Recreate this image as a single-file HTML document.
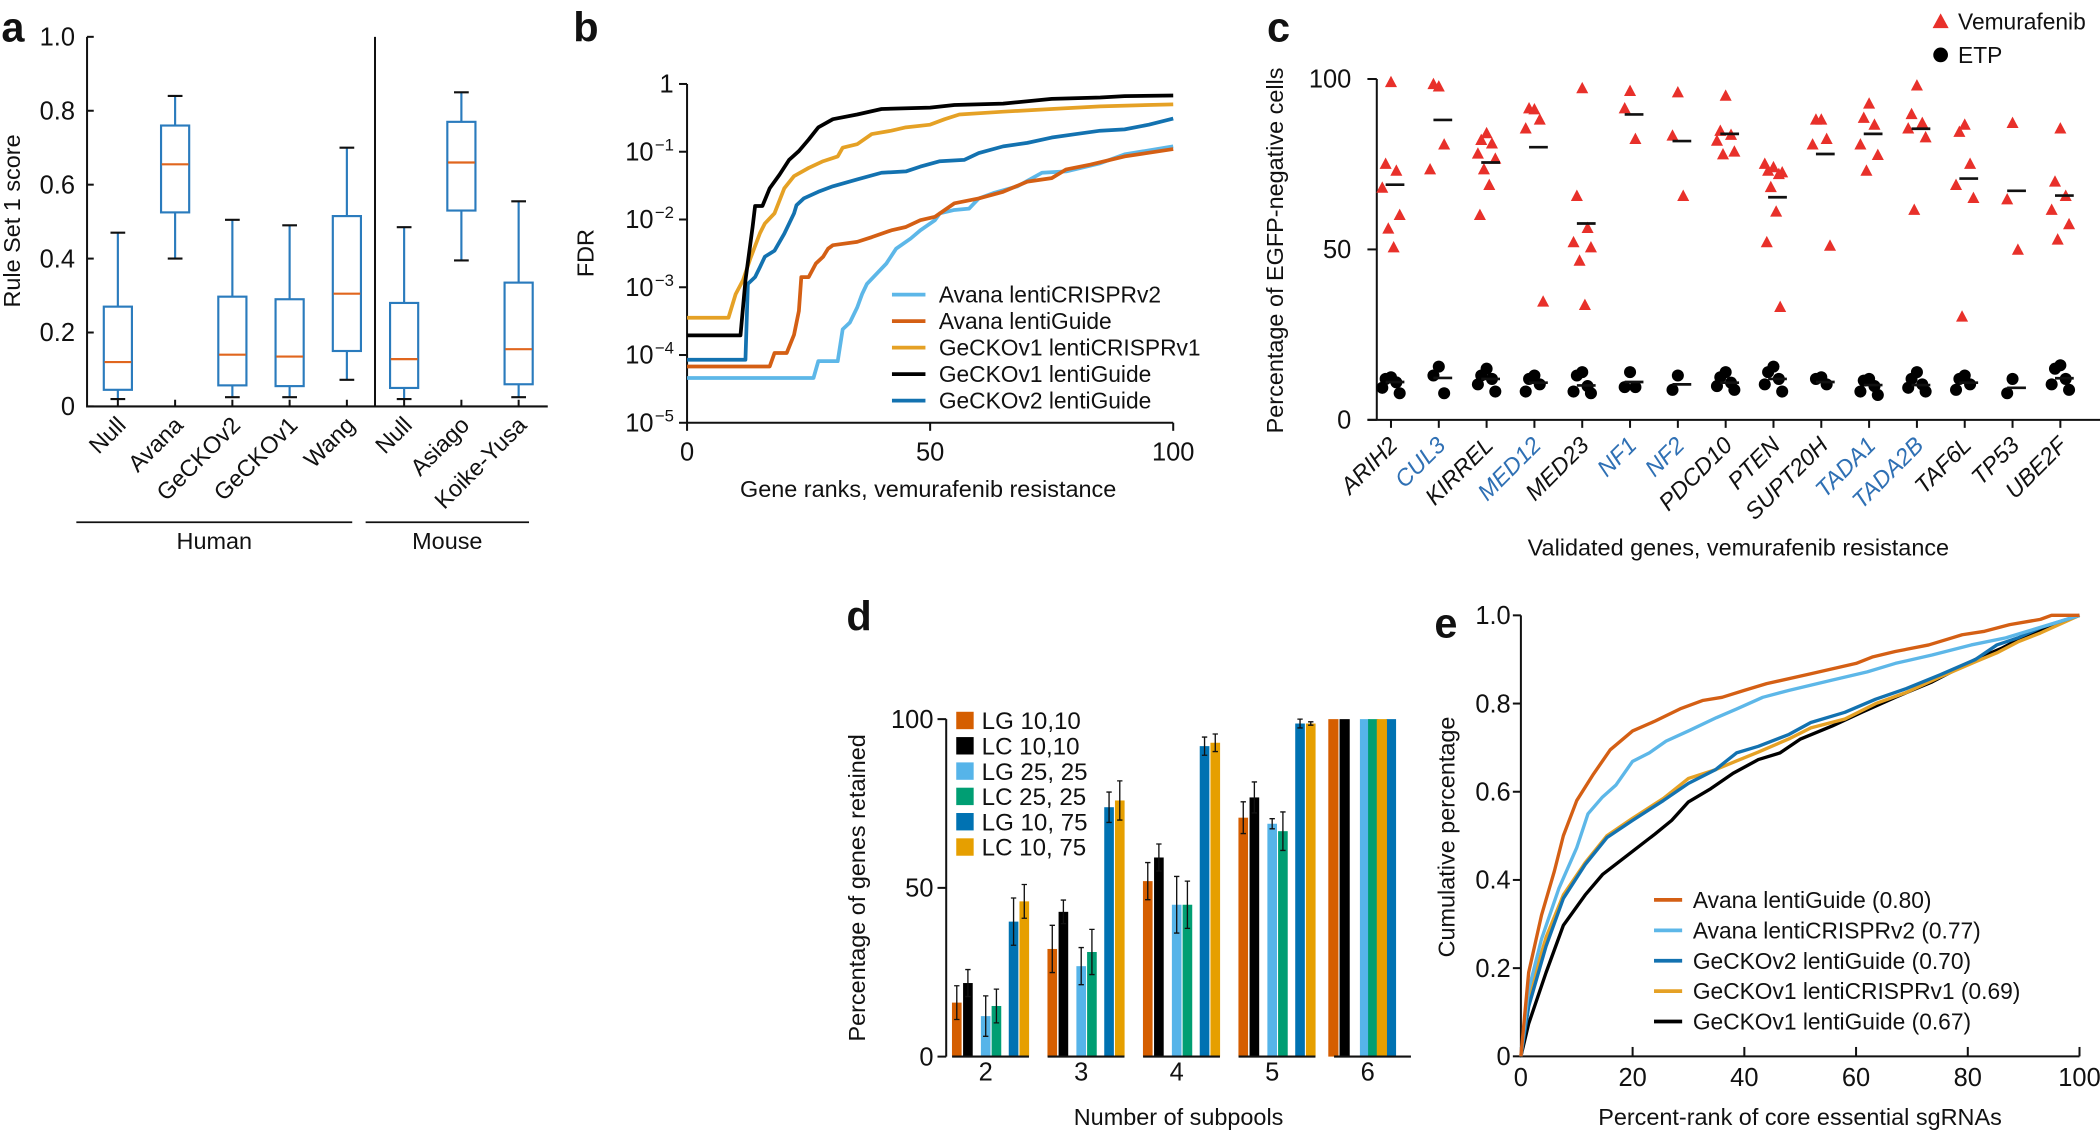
<!DOCTYPE html>
<html><head><meta charset="utf-8">
<style>
html,body{margin:0;padding:0;background:#fff;}
svg{display:block;font-family:"Liberation Sans",Arial,sans-serif;}
text{fill:#111;}
</style></head>
<body>
<svg id="fig" width="2100" height="1132" viewBox="0 0 1568 845.3" preserveAspectRatio="none" xmlns="http://www.w3.org/2000/svg">
<g font-weight="bold" font-size="31">
<text x="1" y="31">a</text>
<text x="428" y="31">b</text>
<text x="946" y="31">c</text>
<text x="632" y="471">d</text>
<text x="1071" y="476">e</text>
</g>
<g font-size="17.5">
<text transform="translate(15,165) rotate(-90)" text-anchor="middle">Rule Set 1 score</text>
<text x="160" y="410" text-anchor="middle">Human</text>
<text x="334" y="410" text-anchor="middle">Mouse</text>
<text transform="translate(443,189) rotate(-90)" text-anchor="middle">FDR</text>
<text x="693" y="371" text-anchor="middle">Gene ranks, vemurafenib resistance</text>
<text transform="translate(958,187) rotate(-90)" text-anchor="middle">Percentage of EGFP-negative cells</text>
<text x="1298" y="415" text-anchor="middle">Validated genes, vemurafenib resistance</text>
<text transform="translate(646,663) rotate(-90)" text-anchor="middle">Percentage of genes retained</text>
<text x="880" y="840" text-anchor="middle">Number of subpools</text>
<text transform="translate(1086,625) rotate(-90)" text-anchor="middle">Cumulative percentage</text>
<text x="1344" y="840" text-anchor="middle">Percent-rank of core essential sgRNAs</text>
</g>
<g id="root"></g>
</svg>
<script>
// ---------- Panel a data ----------
const aCats = ["Null","Avana","GeCKOv2","GeCKOv1","Wang","Null","Asiago","Koike-Yusa"];
const aWhiskLo = [0.02,0.40,0.025,0.025,0.072,0.02,0.395,0.025];
const aQ1 = [0.045,0.525,0.057,0.055,0.15,0.05,0.53,0.06];
const aMed = [0.12,0.655,0.14,0.135,0.305,0.128,0.66,0.155];
const aQ3 = [0.27,0.76,0.297,0.29,0.515,0.28,0.77,0.335];
const aWhiskHi = [0.47,0.84,0.505,0.49,0.70,0.485,0.85,0.555];
const aTicks = [0,0.2,0.4,0.6,0.8,1.0];
const aTickLabels = ["0","0.2","0.4","0.6","0.8","1.0"];
// ---------- Panel b data ----------
const bNames = ["Avana lentiCRISPRv2","Avana lentiGuide","GeCKOv1 lentiCRISPRv1","GeCKOv1 lentiGuide","GeCKOv2 lentiGuide"];
const bRanksLC2 = [0,26,27,31,32,33.5,35,36,37,39,41,43,46,48,51,52,55,58,60,63,68,73,78,85,90,100];
const bLogLC2 = [-4.34,-4.34,-4.09,-4.09,-3.62,-3.52,-3.3,-3.1,-2.95,-2.8,-2.65,-2.43,-2.28,-2.16,-2.01,-1.91,-1.86,-1.84,-1.69,-1.61,-1.51,-1.31,-1.29,-1.17,-1.04,-0.92];
const bRanksALG = [0,17,18,20.5,22,23,23.5,25,26.5,28,29,30,35,38,42,45,48,51,55,60,65,70,75,78,83,90,100];
const bLogALG = [-4.17,-4.17,-3.97,-3.97,-3.7,-3.35,-2.85,-2.85,-2.65,-2.55,-2.43,-2.38,-2.33,-2.26,-2.16,-2.11,-2.01,-1.96,-1.76,-1.69,-1.59,-1.44,-1.39,-1.26,-1.19,-1.07,-0.96];
const bRanksG1C = [0,8.5,10,11.5,13,15,16,18,20,22,25,28,31,32,35,38,42,45,50,53,56,65,75,85,100];
const bLogG1C = [-3.45,-3.45,-3.1,-2.9,-2.58,-2.2,-2.06,-1.91,-1.54,-1.36,-1.24,-1.14,-1.07,-0.94,-0.89,-0.74,-0.69,-0.64,-0.6,-0.52,-0.45,-0.41,-0.37,-0.33,-0.3];
const bRanksG1G = [0,11,12,13.5,14,15.5,17,19,21,23,25,27,30,35,40,50,55,65,75,85,90,100];
const bLogG1G = [-3.71,-3.71,-2.9,-2.1,-1.8,-1.8,-1.54,-1.34,-1.12,-0.99,-0.82,-0.64,-0.52,-0.45,-0.37,-0.35,-0.31,-0.29,-0.22,-0.2,-0.18,-0.17];
const bRanksG2G = [0,12,12.5,14,15,16,18,20,22,22.5,24,27,30,35,40,45,48,52,57,60,65,70,75,80,85,90,95,100];
const bLogG2G = [-4.07,-4.07,-2.95,-2.85,-2.7,-2.55,-2.46,-2.21,-1.91,-1.79,-1.69,-1.59,-1.51,-1.41,-1.31,-1.29,-1.22,-1.14,-1.12,-1.02,-0.92,-0.87,-0.79,-0.74,-0.69,-0.67,-0.6,-0.51];
const bXTicks = [0,50,100];
const bYExp = [0,-1,-2,-3,-4,-5];
// ---------- Panel c data ----------
const cGenes = ["ARIH2","CUL3","KIRREL","MED12","MED23","NF1","NF2","PDCD10","PTEN","SUPT20H","TADA1","TADA2B","TAF6L","TP53","UBE2F"];
const cBlueGenes = ["CUL3","MED12","NF1","NF2","TADA1","TADA2B"];
const cVem = [
 [99,75,73,68,60,56,50.5],
 [97.7,98.4,80.7,73.4],
 [84,82,81,78,76.5,73.4,68.8,60],
 [91,91.3,88,85.4,34.6],
 [97.2,65.6,56.2,52,50.5,46.6,33.6],
 [96.4,91.3,82.3],
 [96,83.3,65.6],
 [95,84.7,83.5,81.8,78.6,77.8],
 [74,73,72,75,72.5,68.2,61,52,33],
 [88,88,82.3,80.7,51],
 [92.7,88.5,86.5,80.7,77.6,73],
 [98,89.6,87,85.4,82.8,61.5],
 [86.5,84.4,75,68.8,65,30.2],
 [87,64.6,49.8],
 [85.4,69.8,65.6,61.5,57.3,52.8]
];
const cVemMean = [69,88,75.5,80,57.6,89.6,81.8,83.9,65.3,78,83.9,85.4,70.8,67.2,65.8];
const cEtp = [
 [12.5,12,11,9.4,7.8],
 [15.6,13,7.8],
 [15,13,12,10.4,8.3],
 [13,12,10.4,8.3],
 [14,13,9.9,8.3,7.8],
 [14,9.6,9.6],
 [13,8.8],
 [14,12.5,10.9,9.9,8.8],
 [15.6,14,12,10.4,8.3],
 [12.5,12,10.4],
 [12,11.5,9.9,8.3,7.3],
 [14,12,10.4,9.4,8.3],
 [13,12,10.4,8.8],
 [12,7.8],
 [16,15,12,10.4,8.8]
];
const cEtpMean = [11.1,12.3,12,10.9,10.1,11.1,10.4,10.9,12,11.1,10.2,10.2,10.9,9.4,12.2];
const cTicks = [0,50,100];
// ---------- Panel d data ----------
const dGroups = ["2","3","4","5","6"];
const dSeries = ["LG 10,10","LC 10,10","LG 25, 25","LC 25, 25","LG 10, 75","LC 10, 75"];
const dLG1010 = [16,31.9,52,70.8,100];
const dLC1010 = [21.8,42.9,59,76.8,100];
const dLG2525 = [12,26.8,45,69,100];
const dLC2525 = [15,31,45,66.8,100];
const dLG1075 = [40,73.9,92,98.7,100];
const dLC1075 = [46,75.9,93,98.7,100];
const dErrLG1010 = [5,7,5.5,4.7,0];
const dErrLC1010 = [4,3.5,4,4.6,0];
const dErrLG2525 = [6,5.5,8.4,1.5,0];
const dErrLC2525 = [5,6.7,7,5.7,0];
const dErrLG1075 = [7,4.5,2.7,1.3,0];
const dErrLC1075 = [5,5.8,2.6,0.5,0];
const dTicks = [0,50,100];
// ---------- Panel e data ----------
const eNames = ["Avana lentiGuide (0.80)","Avana lentiCRISPRv2 (0.77)","GeCKOv2 lentiGuide (0.70)","GeCKOv1 lentiCRISPRv1 (0.69)","GeCKOv1 lentiGuide (0.67)"];
const eXALG = [0,1.4,3.7,6,7.6,10,13,16,20,24,28.5,32.5,36,40,44,52,60,63,67,73,79,83,87.5,93,95,100];
const eYALG = [0,0.19,0.32,0.42,0.5,0.58,0.64,0.695,0.738,0.76,0.788,0.807,0.814,0.83,0.845,0.868,0.891,0.906,0.918,0.933,0.956,0.964,0.979,0.991,1.0,1.0];
const eXALC = [0,1.4,3.7,6.8,10,12,14.6,17,20,23,26,30,35,38.7,43.3,48,55.7,62,67,73.6,80.6,86.8,90.7,94.6,100];
const eYALC = [0,0.151,0.266,0.381,0.473,0.55,0.588,0.615,0.669,0.688,0.715,0.738,0.768,0.788,0.814,0.83,0.853,0.872,0.891,0.91,0.933,0.949,0.964,0.979,1.0];
const eXG2G = [0,1.4,4.5,7.6,11.5,15.4,20,25.5,30,34.8,38.6,42.5,48,51.9,58,63.5,69,75,81.4,85.2,89,93,100];
const eYG2G = [0,0.113,0.25,0.358,0.435,0.496,0.535,0.58,0.619,0.65,0.688,0.703,0.73,0.757,0.78,0.81,0.834,0.865,0.9,0.933,0.949,0.972,1.0];
const eXG1C = [0,1.4,4.5,7.6,11.5,15.4,20,25.5,30,34.8,38.6,42.5,48,51.9,58,63.5,69,75,81.4,85.2,89,93,100];
const eYG1C = [0,0.136,0.27,0.366,0.439,0.5,0.54,0.585,0.63,0.65,0.67,0.69,0.72,0.745,0.765,0.8,0.825,0.86,0.895,0.915,0.94,0.96,1.0];
const eXG1G = [0,1.4,4.5,7.6,11.5,14.6,20,24,27,30,34,38,42.5,46.4,50,55.7,61,67,73.6,81.4,86,90.7,100];
const eYG1G = [0,0.074,0.19,0.297,0.366,0.412,0.465,0.504,0.535,0.577,0.607,0.642,0.673,0.688,0.719,0.749,0.78,0.814,0.849,0.9,0.925,0.956,1.0];
const eTicksX = [0,20,40,60,80,100];
const eTicksY = [0,0.2,0.4,0.6,0.8,1.0];
const eTickLabelsY = ["0","0.2","0.4","0.6","0.8","1.0"];

const NS = "http://www.w3.org/2000/svg";
const root = document.getElementById("root");
function mk(tag, attrs, parent) {
  const e = document.createElementNS(NS, tag);
  for (const k in attrs) e.setAttribute(k, attrs[k]);
  (parent || root).appendChild(e);
  return e;
}
const FS = 17.5;
const TFS = 19;
let el;

// ================= Panel a =================
const ax = i => 88 + i * 42.75;
const ay = v => 303.5 - v * 276;
const ga = mk("g", {});


el = mk("path", {d:`M65 ${ay(1)} V${ay(0)} H409 M280 ${ay(1)} V${ay(0)}`, stroke:"#111", "stroke-width":1.5, fill:"none"}, ga);


aTicks.forEach((t, i) => {
  el = mk("line", {x1:65, x2:70, y1:ay(t), y2:ay(t), stroke:"#111", "stroke-width":1.5}, ga);
  
  
  el = mk("text", {x:56, y:ay(t)+6.5, "text-anchor":"end", "font-size":TFS}, ga);
  el.textContent = aTickLabels[i];
  
  
});
aCats.forEach((c, i) => {
  const x = ax(i);
  el = mk("line", {x1:x, x2:x, y1:ay(0), y2:ay(0)-5, stroke:"#111", "stroke-width":1.5}, ga);
  
  
  el = mk("text", {x:x+7, y:ay(0)+15, "text-anchor":"end", "font-size":FS, transform:`rotate(-45 ${x+7} ${ay(0)+15})`}, ga);
  el.textContent = c;
  
  
  el = mk("path", {d:`M${x} ${ay(aQ1[i])} V${ay(aWhiskLo[i])} M${x} ${ay(aQ3[i])} V${ay(aWhiskHi[i])}`, stroke:"#2a7bbd", "stroke-width":1.6}, ga);
  
  
  el = mk("path", {d:`M${x-5.5} ${ay(aWhiskLo[i])} H${x+5.5} M${x-5.5} ${ay(aWhiskHi[i])} H${x+5.5}`, stroke:"#111", "stroke-width":1.6}, ga);
  
  
  el = mk("rect", {x:x-10.5, y:ay(aQ3[i]), width:21, height:ay(aQ1[i])-ay(aQ3[i]), fill:"none", stroke:"#2a7bbd", "stroke-width":1.6}, ga);
  
  
  el = mk("line", {x1:x-10, x2:x+10, y1:ay(aMed[i]), y2:ay(aMed[i]), stroke:"#e0661e", "stroke-width":1.6}, ga);
  
  
});
el = mk("path", {d:"M57 390 H263 M273 390 H395", stroke:"#111", "stroke-width":1.3}, ga);



// ================= Panel b =================
const bx = r => 513 + r * 3.63;
const by = l => 62.7 - l * 50.6;
const gb = mk("g", {});


el = mk("path", {d:`M513 ${by(0)} V${by(-5)} H${bx(100)}`, stroke:"#111", "stroke-width":1.5, fill:"none"}, gb);


bYExp.forEach(e => {
  el = mk("line", {x1:507, x2:513, y1:by(e), y2:by(e), stroke:"#111", "stroke-width":1.5}, gb);
  
  
  el = mk("text", {x:e === 0 ? 503 : 488, y:by(e)+6.5, "text-anchor":"end", "font-size":TFS}, gb);
  el.textContent = e === 0 ? "1" : "10";
  
  
  if (e !== 0) {
    el = mk("text", {x:489, y:by(e)-1, "font-size":12.5}, gb);
    el.textContent = "\u2212" + (-e);
    
    
  }
});
bXTicks.forEach(t => {
  el = mk("line", {x1:bx(t), x2:bx(t), y1:by(-5), y2:by(-5)+6, stroke:"#111", "stroke-width":1.5}, gb);
  
  
  el = mk("text", {x:bx(t), y:344, "text-anchor":"middle", "font-size":TFS}, gb);
  el.textContent = String(t);
  
  
});
const bColors = ["#5db7e8","#d45f14","#e5a125","#000000","#1372b0"];
const bRanks = [bRanksLC2, bRanksALG, bRanksG1C, bRanksG1G, bRanksG2G];
const bLogs = [bLogLC2, bLogALG, bLogG1C, bLogG1G, bLogG2G];
[0,1,4,2,3].forEach(s => {
  const d = bRanks[s].map((r, k) => (k ? "L" : "M") + bx(r).toFixed(1) + " " + by(bLogs[s][k]).toFixed(1)).join(" ");
  el = mk("path", {d, stroke:bColors[s], "stroke-width":2.8, fill:"none", "stroke-linejoin":"round"}, gb);
  
  
});
bNames.forEach((n, i) => {
  const y = 220 + i * 19.8;
  el = mk("line", {x1:666, x2:691, y1:y, y2:y, stroke:bColors[i], "stroke-width":2.8}, gb);
  
  
  el = mk("text", {x:701, y:y+6, "font-size":17}, gb);
  el.textContent = n;
  
  
});

// ================= Panel c =================
const cx = i => 1038.6 + i * 35.7;
const cy = v => 313.5 - v * 2.545;
const gc = mk("g", {});


el = mk("path", {d:`M1028 ${cy(100)} V${cy(0)} M1021 ${cy(0)} H1568`, stroke:"#111", "stroke-width":1.5, fill:"none"}, gc);


cTicks.forEach(t => {
  el = mk("line", {x1:1021, x2:1028, y1:cy(t), y2:cy(t), stroke:"#111", "stroke-width":1.5}, gc);
  
  
  el = mk("text", {x:1009, y:cy(t)+6.5, "text-anchor":"end", "font-size":TFS}, gc);
  el.textContent = String(t);
  
  
});
const jit = [0,-4,4,-6.5,6.5,-2,2,-5,5];
cGenes.forEach((g, i) => {
  const x = cx(i);
  el = mk("line", {x1:x, x2:x, y1:cy(0), y2:cy(0)+6, stroke:"#111", "stroke-width":1.5}, gc);
  
  
  const isBlue = cBlueGenes.includes(g);
  el = mk("text", {x:x+6, y:cy(0)+20, "text-anchor":"end", "font-size":FS, "font-style":"italic", style:isBlue ? "fill:#2f70b4" : "fill:#111", transform:`rotate(-45 ${x+6} ${cy(0)+20})`}, gc);
  el.textContent = g;
  
  
  cVem[i].forEach((v, k) => {
    const px = x + jit[k % jit.length], py = cy(v);
    el = mk("path", {d:`M${px} ${py-5} L${px+4.5} ${py+3.5} L${px-4.5} ${py+3.5}Z`, fill:"#e8302a"}, gc);
    
    
  });
  cEtp[i].forEach((v, k) => {
    el = mk("circle", {cx:x + jit[k % jit.length], cy:cy(v), r:4.5, fill:"#000"}, gc);
    
    
  });
  el = mk("line", {x1:x-4, x2:x+10, y1:cy(cVemMean[i]), y2:cy(cVemMean[i]), stroke:"#111", "stroke-width":2}, gc);
  
  
  el = mk("line", {x1:x-4, x2:x+10, y1:cy(cEtpMean[i]), y2:cy(cEtpMean[i]), stroke:"#111", "stroke-width":2}, gc);
  
  
});
el = mk("path", {d:"M1449 10 L1455 21 L1443 21Z", fill:"#e8302a"}, gc);


el = mk("text", {x:1462, y:22, "font-size":17}, gc);
el.textContent = "Vemurafenib";


el = mk("circle", {cx:1449, cy:41, r:5.5, fill:"#000"}, gc);


el = mk("text", {x:1462, y:47, "font-size":17}, gc);
el.textContent = "ETP";



// ================= Panel d =================
const dy = v => 789 - v * 2.52;
const dMid = g => 739.6 + g * 71.3;
const dOff = [-25.2,-16.9,-3.6,4.4,17.2,25.2];
const dOff6 = [-29.4,-21,-5.8,0.3,13.6,6.8];
const dColors = ["#d55e00","#000000","#56b4e9","#009e73","#0072b2","#e69f00"];
const dVals = [dLG1010, dLC1010, dLG2525, dLC2525, dLG1075, dLC1075];
const dErrs = [dErrLG1010, dErrLC1010, dErrLG2525, dErrLC2525, dErrLG1075, dErrLC1075];
const gd = mk("g", {});


el = mk("line", {x1:706.5, x2:706.5, y1:dy(100), y2:dy(0), stroke:"#111", "stroke-width":1.5}, gd);


dTicks.forEach(t => {
  el = mk("line", {x1:700, x2:706.5, y1:dy(t), y2:dy(t), stroke:"#111", "stroke-width":1.5}, gd);
  
  
  el = mk("text", {x:697, y:dy(t)+6.5, "text-anchor":"end", "font-size":TFS}, gd);
  el.textContent = String(t);
  
  
});
dGroups.forEach((g, gi) => {
  const m = dMid(gi);
  const last = gi === dGroups.length - 1;
  const offs = last ? dOff6 : dOff;
  dVals.forEach((vals, s) => {
    const x = m + offs[s];
    el = mk("rect", {x:x-3.6, y:dy(vals[gi]), width:last ? 7.6 : 7.2, height:dy(0)-dy(vals[gi]), fill:dColors[s]}, gd);
    
    
    const e = dErrs[s][gi];
    if (e > 0) {
      el = mk("path", {d:`M${x} ${dy(vals[gi]-e)} V${dy(vals[gi]+e)} M${x-2} ${dy(vals[gi]-e)} H${x+2} M${x-2} ${dy(vals[gi]+e)} H${x+2}`, stroke:"#111", "stroke-width":1}, gd);
      
      
    }
  });
  el = mk("line", {x1:m-28.7, x2:m+28.7, y1:dy(0), y2:dy(0), stroke:"#111", "stroke-width":1.6}, gd);
  
  
  el = mk("text", {x:m-3.6, y:807, "text-anchor":"middle", "font-size":TFS}, gd);
  el.textContent = g;
  
  
});
dSeries.forEach((n, i) => {
  const y = 538 + i * 18.9;
  el = mk("rect", {x:714, y:y-6.5, width:13, height:13, fill:dColors[i]}, gd);
  
  
  el = mk("text", {x:733, y:y+6.5, "font-size":18}, gd);
  el.textContent = n;
  
  
});

// ================= Panel e =================
const ex = p => 1135.6 + p * 4.171;
const ey = v => 788.8 - v * 329.3;
const ge = mk("g", {});


el = mk("path", {d:`M${ex(0)} ${ey(1)} V${ey(0)} H${ex(100)}`, stroke:"#111", "stroke-width":1.5, fill:"none"}, ge);


eTicksY.forEach((t, i) => {
  el = mk("line", {x1:ex(0)-6, x2:ex(0), y1:ey(t), y2:ey(t), stroke:"#111", "stroke-width":1.5}, ge);
  
  
  el = mk("text", {x:1128, y:ey(t)+6.5, "text-anchor":"end", "font-size":TFS}, ge);
  el.textContent = eTickLabelsY[i];
  
  
});
eTicksX.forEach(t => {
  el = mk("line", {x1:ex(t), x2:ex(t), y1:ey(0), y2:ey(0)-7, stroke:"#111", "stroke-width":1.5}, ge);
  
  
  el = mk("text", {x:ex(t), y:811, "text-anchor":"middle", "font-size":TFS}, ge);
  el.textContent = String(t);
  
  
});
const eColors = ["#d45f14","#5db7e8","#1372b0","#e5a125","#000000"];
const eXs = [eXALG, eXALC, eXG2G, eXG1C, eXG1G];
const eYs = [eYALG, eYALC, eYG2G, eYG1C, eYG1G];
[4,3,2,1,0].forEach(s => {
  const d = eXs[s].map((p, k) => (k ? "L" : "M") + ex(p).toFixed(1) + " " + ey(eYs[s][k]).toFixed(1)).join(" ");
  el = mk("path", {d, stroke:eColors[s], "stroke-width":2.5, fill:"none", "stroke-linejoin":"round"}, ge);
  
  
});
eNames.forEach((n, i) => {
  const y = 672 + i * 22.7;
  el = mk("line", {x1:1235, x2:1256, y1:y, y2:y, stroke:eColors[i], "stroke-width":2.8}, ge);
  
  
  el = mk("text", {x:1264, y:y+6, "font-size":17}, ge);
  el.textContent = n;
  
  
});
</script>
</body></html>
